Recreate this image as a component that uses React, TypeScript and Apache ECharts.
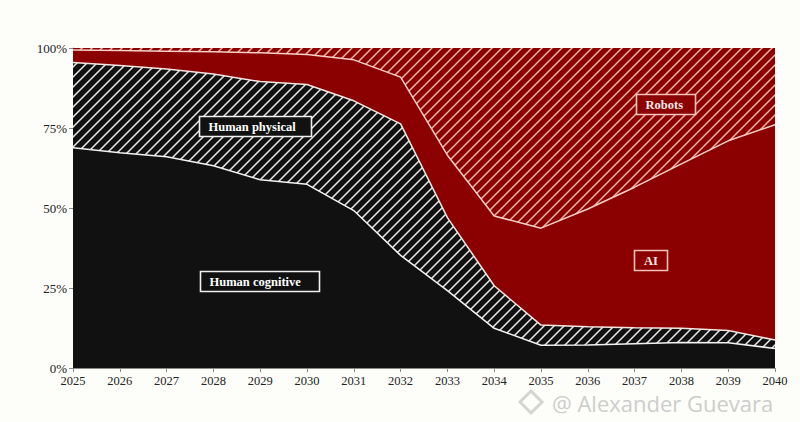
import React, { useEffect, useRef } from "react";
import * as echarts from "echarts";

const years = ["2025","2026","2027","2028","2029","2030","2031","2032","2033","2034","2035","2036","2037","2038","2039","2040"];
const humanCognitive = [68.8, 67.3, 66.0, 63.2, 58.8, 57.4, 49.2, 35.2, 24.2, 12.4, 7.1, 7.2, 7.6, 8.0, 7.9, 6.1];
const humanPhysical = [26.7, 27.2, 27.4, 28.7, 30.7, 31.2, 34.3, 41.1, 22.8, 13.3, 6.3, 5.7, 5.0, 4.4, 3.8, 2.65];
const ai = [3.9, 4.7, 5.6, 6.9, 9.0, 9.4, 12.8, 14.6, 19.5, 21.8, 30.3, 36.8, 43.9, 51.4, 59.3, 67.25];
const robots = [0.6, 0.8, 1.0, 1.2, 1.5, 2.0, 3.7, 9.1, 33.5, 52.5, 56.3, 50.3, 43.5, 36.2, 29.0, 24.0];
const yTicks = [0, 25, 50, 75, 100];

const BLACK = "#111111";
const RED = "#8b0000";

function hatch(bg: string, line: string) {
  const s = 10;
  const svg =
    `<svg xmlns='http://www.w3.org/2000/svg' width='${s}' height='${s}'>` +
    `<rect width='${s}' height='${s}' fill='${bg}'/>` +
    `<path d='M-1,1 L1,-1 M0,${s} L${s},0 M${s - 1},${s + 1} L${s + 1},${s - 1}' stroke='${line}' stroke-width='1.5'/>` +
    `</svg>`;
  return {
    image: "data:image/svg+xml;charset=utf-8," + encodeURIComponent(svg),
    repeat: "repeat",
    imageWidth: s,
    imageHeight: s,
  } as any;
}

function labelBox(x: number, y: number, w: number, h: number, text: string, fill: string, stroke: string, textColor: string, center = false) {
  return {
    type: "group",
    children: [
      { type: "rect", shape: { x, y, width: w, height: h }, style: { fill, stroke, lineWidth: 1.6 }, z: 100 },
      {
        type: "text",
        x: center ? x + w / 2 : x + 9,
        y: y + h / 2 + 0.5,
        style: {
          text,
          fill: textColor,
          font: "bold 12.5px 'Liberation Serif', 'DejaVu Serif', serif",
          align: center ? "center" : "left",
          verticalAlign: "middle",
        },
        z: 101,
      },
    ],
  };
}

export default function App() {
  const ref = useRef<HTMLDivElement>(null);
  useEffect(() => {
    if (!ref.current) return;
    const chart = echarts.init(ref.current, undefined, { renderer: "svg" });
    const font = "'Liberation Serif', 'DejaVu Serif', serif";
    const mk = (name: string, data: number[], area: any, lineColor: string, lineWidth: number, z: number) => ({
      name,
      type: "line",
      stack: "total",
      data,
      symbol: "none",
      z,
      lineStyle: { color: lineColor, width: lineWidth },
      areaStyle: { color: area, opacity: 1 },
      emphasis: { disabled: true },
    });
    chart.setOption({
      animation: false,
      backgroundColor: "#fdfdf9",
      grid: { left: 73, right: 25, top: 48, bottom: 54 },
      xAxis: {
        type: "category",
        data: years,
        boundaryGap: false,
        axisLine: { lineStyle: { color: "#8a8a8a", width: 1 } },
        axisTick: { show: true, length: 4, lineStyle: { color: "#8a8a8a" }, alignWithLabel: true },
        axisLabel: { color: "#222", fontFamily: font, fontSize: 12.5, margin: 6, interval: 0 },
        splitLine: { show: false },
      },
      yAxis: {
        type: "value",
        min: yTicks[0],
        max: yTicks[yTicks.length - 1],
        interval: 25,
        axisLine: { show: true, lineStyle: { color: "#8a8a8a", width: 1 } },
        axisTick: { show: true, length: 4, lineStyle: { color: "#8a8a8a" } },
        axisLabel: { color: "#222", fontFamily: font, fontSize: 13, margin: 6, formatter: "{value}%" },
        splitLine: { show: false },
      },
      series: [
        mk("Human cognitive", humanCognitive, BLACK, "#f2f2f2", 1.5, 6),
        mk("Human physical", humanPhysical, hatch(BLACK, "#e8e8e8"), "#f6e6e2", 1.5, 5),
        mk("AI", ai, RED, "#f4cfc8", 1.5, 4),
        mk("Robots", robots, hatch(RED, "#efb3aa"), RED, 0, 3),
      ],
      graphic: [
        labelBox(199.5, 116.5, 112, 20, "Human physical", BLACK, "#f0f0f0", "#ffffff"),
        labelBox(200.5, 271.5, 119, 20, "Human cognitive", BLACK, "#f0f0f0", "#ffffff"),
        labelBox(636.5, 94.5, 59, 20, "Robots", RED, "#f4c4bc", "#fbe9e6"),
        labelBox(634.5, 250.5, 33, 20, "AI", RED, "#f4c4bc", "#fbe9e6", true),
        {
          type: "polygon",
          shape: { points: [[531, 391], [542, 402], [531, 413], [520, 402]] },
          style: { fill: "none", stroke: "#d4d4d4", lineWidth: 3 },
          z: 100,
        },
        {
          type: "text",
          x: 552,
          y: 403,
          style: {
            text: "@ Alexander Guevara",
            fill: "#cdcdcd",
            font: "22px 'Open Sans', 'Noto Sans', sans-serif",
            verticalAlign: "middle",
          },
          z: 100,
        },
      ],
    });
    return () => chart.dispose();
  }, []);
  return <div ref={ref} style={{ position: "fixed", left: 0, top: 0, width: 800, height: 422 }} />;
}
